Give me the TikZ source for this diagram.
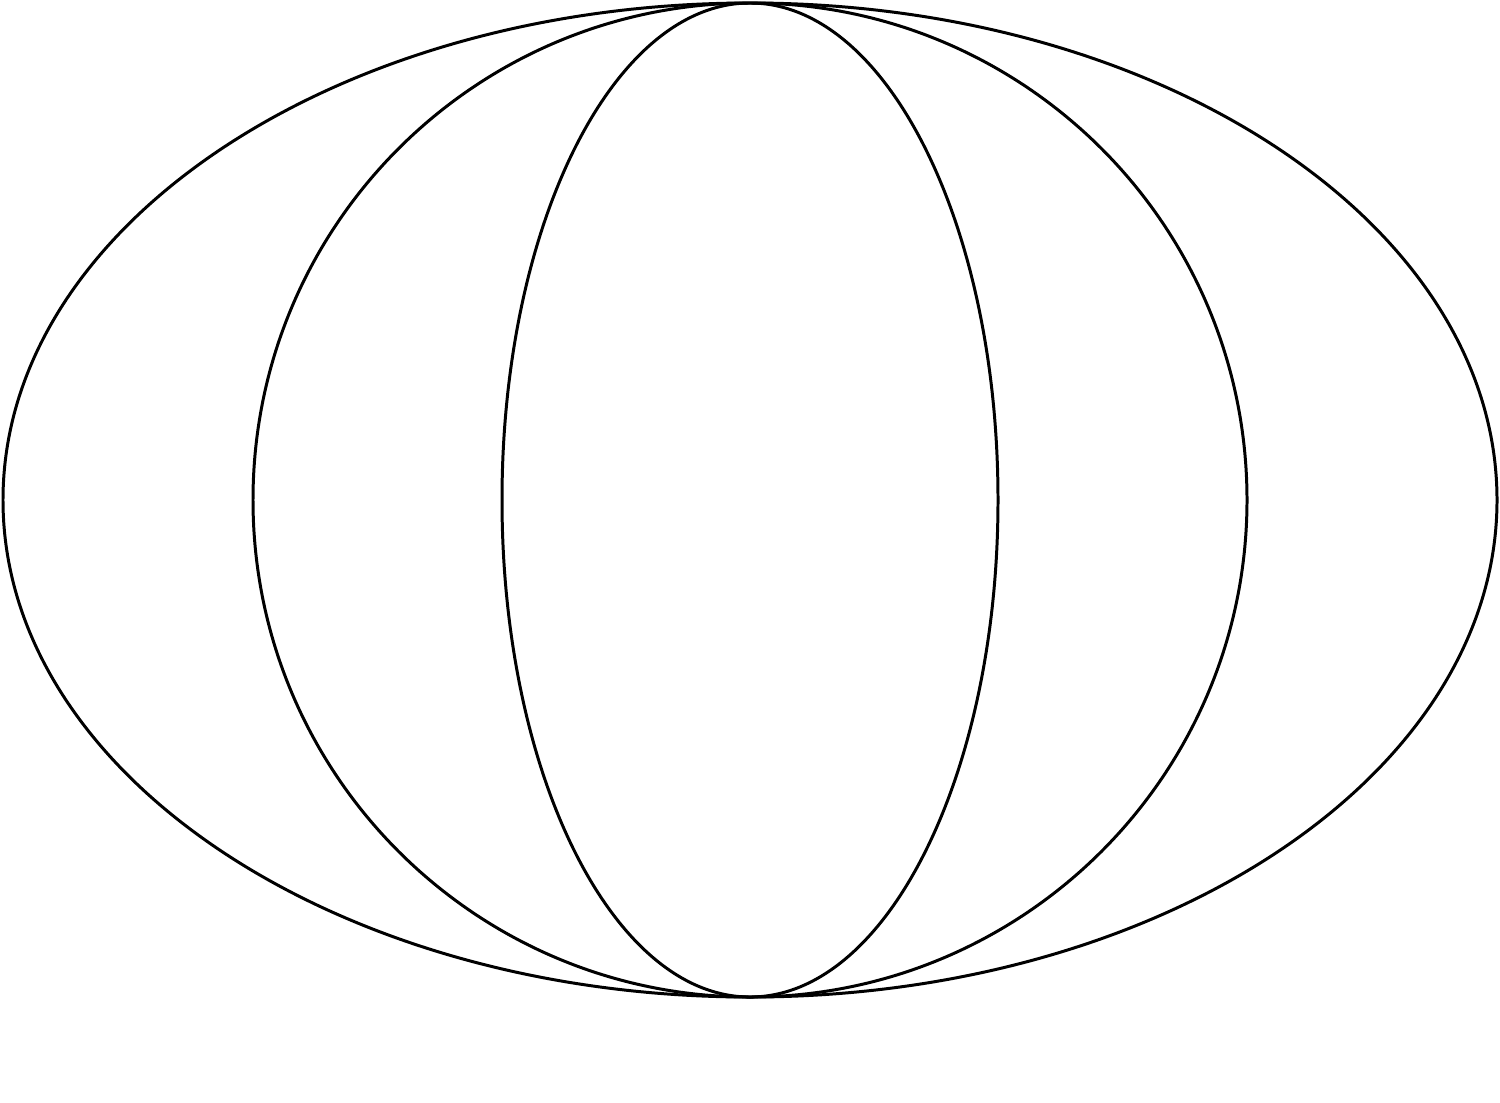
\documentclass[tikz,border=0pt]{standalone}
\begin{document}
\begin{tikzpicture}[x=0.02cm,y=-0.02cm,
  curve/.style={draw=black,line width=1.7pt}]
\useasboundingbox[fill=white] (0,0) rectangle (1500,1102);
\coordinate (c) at (750,500);
\draw[curve] (c) ellipse [x radius=747, y radius=497];
\draw[curve] (c) ellipse [x radius=497, y radius=497];
\draw[curve] (c) ellipse [x radius=248, y radius=497];
\end{tikzpicture}
\end{document}
